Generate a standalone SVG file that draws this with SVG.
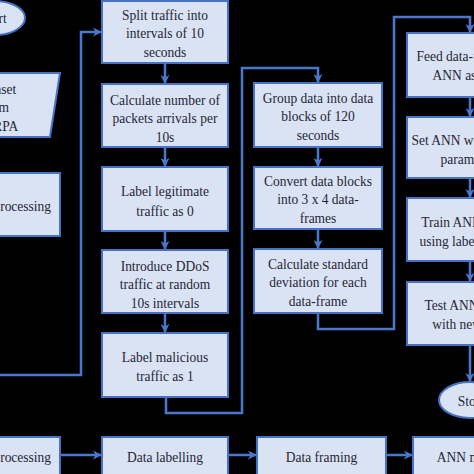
<svg xmlns="http://www.w3.org/2000/svg" width="474" height="474" viewBox="0 0 474 474">
<defs>
<style>
.bg{fill:#000}
.box{fill:#dae3f3;stroke:#4472c4;stroke-width:2}
.t{font-family:"Liberation Serif","Times New Roman",serif;font-size:15px;fill:#262636;text-anchor:middle}
.c{fill:none;stroke:#4a78cc;stroke-width:2.5}
</style>
<marker id="ah" markerWidth="9" markerHeight="9" viewBox="0 0 10 10" refX="9" refY="5" orient="auto" markerUnits="userSpaceOnUse">
<path d="M0,0 L10,5 L0,10 L3,5 z" fill="#4a78cc"/>
</marker>
</defs>
<rect class="bg" x="0" y="0" width="474" height="474"/>

<g id="connectors">
<path class="c" d="M-6,35 V72" marker-end="url(#ah)"/>
<path class="c" d="M-4,137 V172" marker-end="url(#ah)"/>
<path class="c" d="M-10,236 V375 H81 V32 H101" marker-end="url(#ah)"/>
<path class="c" d="M165,63 V83" marker-end="url(#ah)"/>
<path class="c" d="M165,147 V166" marker-end="url(#ah)"/>
<path class="c" d="M165,231 V249" marker-end="url(#ah)"/>
<path class="c" d="M165,313 V332" marker-end="url(#ah)"/>
<path class="c" d="M166,397 V413 H242 V68 H318 V82" marker-end="url(#ah)"/>
<path class="c" d="M318,147 V166" marker-end="url(#ah)"/>
<path class="c" d="M318,229 V248" marker-end="url(#ah)"/>
<path class="c" d="M318,313 V329 H394 V17 H470 V32" marker-end="url(#ah)"/>
<path class="c" d="M470,97 V116" marker-end="url(#ah)"/>
<path class="c" d="M470,178 V197" marker-end="url(#ah)"/>
<path class="c" d="M470,261 V281" marker-end="url(#ah)"/>
<path class="c" d="M470,345 V381" marker-end="url(#ah)"/>
<path class="c" d="M60,455 H101" marker-end="url(#ah)"/>
<path class="c" d="M228,455 H256" marker-end="url(#ah)"/>
<path class="c" d="M386,455 H412" marker-end="url(#ah)"/>
</g>

<g id="start">
<ellipse class="box" cx="-6" cy="18" rx="31" ry="17"/>
<text class="t" transform="translate(-6 0) scale(0.9 1)"><tspan x="0" y="23">Start</tspan></text>
</g>

<g id="dataset">
<polygon class="box" points="-68,73 60,73 50,137 -58,137"/>
<text class="t" transform="translate(-4 0) scale(0.9 1)"><tspan x="0" y="94">Dataset</tspan><tspan x="0" y="112.5">from</tspan><tspan x="0" y="131">DARPA</tspan></text>
</g>

<g id="preprocessing">
<rect class="box" x="-38" y="173" width="98" height="63"/>
<text class="t" transform="translate(11 0) scale(0.9 1)"><tspan x="0" y="211">Pre-processing</tspan></text>
</g>

<g id="split">
<rect class="box" x="102" y="1" width="126" height="62"/>
<text class="t" transform="translate(165 0) scale(0.9 1)"><tspan x="0" y="20">Split traffic into</tspan><tspan x="0" y="38.5">intervals of 10</tspan><tspan x="0" y="57">seconds</tspan></text>
</g>

<g id="calc-packets">
<rect class="box" x="102" y="84" width="126" height="63"/>
<text class="t" transform="translate(165 0) scale(0.9 1)"><tspan x="0" y="105">Calculate number of</tspan><tspan x="0" y="123.5">packets arrivals per</tspan><tspan x="0" y="142">10s</tspan></text>
</g>

<g id="label-legit">
<rect class="box" x="102" y="167" width="126" height="64"/>
<text class="t" transform="translate(165 0) scale(0.9 1)"><tspan x="0" y="196">Label legitimate</tspan><tspan x="0" y="216">traffic as 0</tspan></text>
</g>

<g id="introduce-ddos">
<rect class="box" x="102" y="250" width="126" height="63"/>
<text class="t" transform="translate(165 0) scale(0.9 1)"><tspan x="0" y="271">Introduce DDoS</tspan><tspan x="0" y="289.5">traffic at random</tspan><tspan x="0" y="308">10s intervals</tspan></text>
</g>

<g id="label-malicious">
<rect class="box" x="102" y="333" width="126" height="64"/>
<text class="t" transform="translate(165 0) scale(0.9 1)"><tspan x="0" y="362">Label malicious</tspan><tspan x="0" y="381">traffic as 1</tspan></text>
</g>

<g id="group-data">
<rect class="box" x="254" y="83" width="128" height="64"/>
<text class="t" transform="translate(318 0) scale(0.9 1)"><tspan x="0" y="103">Group data into data</tspan><tspan x="0" y="121.5">blocks of 120</tspan><tspan x="0" y="140">seconds</tspan></text>
</g>

<g id="convert-blocks">
<rect class="box" x="254" y="167" width="128" height="62"/>
<text class="t" transform="translate(318 0) scale(0.9 1)"><tspan x="0" y="186">Convert data blocks</tspan><tspan x="0" y="204.5">into 3 x 4 data-</tspan><tspan x="0" y="223">frames</tspan></text>
</g>

<g id="calc-std">
<rect class="box" x="254" y="249" width="128" height="64"/>
<text class="t" transform="translate(318 0) scale(0.9 1)"><tspan x="0" y="269">Calculate standard</tspan><tspan x="0" y="287.5">deviation for each</tspan><tspan x="0" y="306">data-frame</tspan></text>
</g>

<g id="feed-ann">
<rect class="box" x="407" y="33" width="126" height="64"/>
<text class="t" transform="translate(470 0) scale(0.9 1)"><tspan x="0" y="61">Feed data-frames to</tspan><tspan x="0" y="80.5">ANN as input</tspan></text>
</g>

<g id="set-ann">
<rect class="box" x="407" y="117" width="126" height="61"/>
<text class="t" transform="translate(470 0) scale(0.9 1)"><tspan x="0" y="145">Set ANN weights and</tspan><tspan x="0" y="164">parameters</tspan></text>
</g>

<g id="train-ann">
<rect class="box" x="407" y="198" width="126" height="63"/>
<text class="t" transform="translate(470 0) scale(0.9 1)"><tspan x="0" y="227">Train ANN model</tspan><tspan x="0" y="246">using labelled data</tspan></text>
</g>

<g id="test-ann">
<rect class="box" x="407" y="282" width="126" height="63"/>
<text class="t" transform="translate(470 0) scale(0.9 1)"><tspan x="0" y="310.5">Test ANN model</tspan><tspan x="0" y="329">with new data</tspan></text>
</g>

<g id="stop">
<ellipse class="box" cx="470" cy="400" rx="31" ry="18"/>
<text class="t" transform="translate(470 0) scale(0.9 1)"><tspan x="0" y="406">Stop</tspan></text>
</g>

<g id="stage-preprocessing">
<rect class="box" x="-38" y="437" width="98" height="42"/>
<text class="t" transform="translate(11 0) scale(0.9 1)"><tspan x="0" y="462">Pre-processing</tspan></text>
</g>

<g id="stage-labelling">
<rect class="box" x="102" y="437" width="126" height="42"/>
<text class="t" transform="translate(165 0) scale(0.9 1)"><tspan x="0" y="462">Data labelling</tspan></text>
</g>

<g id="stage-framing">
<rect class="box" x="257" y="437" width="129" height="42"/>
<text class="t" transform="translate(321.5 0) scale(0.9 1)"><tspan x="0" y="462">Data framing</tspan></text>
</g>

<g id="stage-ann">
<rect class="box" x="413" y="437" width="114" height="42"/>
<text class="t" transform="translate(470 0) scale(0.9 1)"><tspan x="0" y="462">ANN model</tspan></text>
</g>
</svg>
